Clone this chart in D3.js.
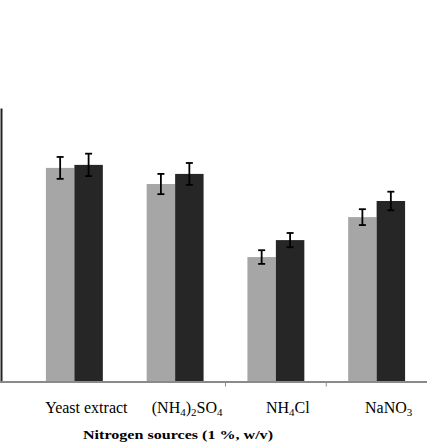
<!DOCTYPE html>
<html lang="en">
<head>
  <meta charset="UTF-8">
  <title>Nitrogen sources</title>
  <script src="https://cdn.jsdelivr.net/npm/d3@7"></script>
  <style>
    body { margin: 0; background: #fff; }
    text { font-family: "Liberation Serif", "Times New Roman", serif; fill: #000; }
  </style>
</head>
<body>
  <script>
    // categories (label parts: [text, isSubscript])
    let categories = ['Yeast extract', '(NH4)2SO4', 'NH4Cl', 'NaNO3'];
    let labelParts = [
      [['Yeast extract', 0]],
      [['(NH', 0], ['4', 1], [')', 0], ['2', 1], ['SO', 0], ['4', 1]],
      [['NH', 0], ['4', 1], ['Cl', 0]],
      [['NaNO', 0], ['3', 1]]
    ];
    let series = ['s1', 's2'];
    let values1 = [78.1, 72.2, 45.5, 60.1];
    let values2 = [79.2, 75.9, 51.7, 66.0];
    let errors1 = [4.0, 3.7, 2.5, 2.9];
    let errors2 = [4.1, 4.0, 2.6, 3.4];
    let colors = ['#a6a6a6', '#262626'];

    let W = 443, H = 443;
    let svg = d3.select('body').append('svg')
      .attr('width', W).attr('height', H);

    let x0 = d3.scaleBand().domain(categories).range([24, 427]).padding(0);
    let x1 = d3.scaleBand().domain(series).range([0, x0.bandwidth()])
      .paddingInner(0).paddingOuter(0.77);
    let y = d3.scaleLinear().domain([0, 100]).range([381.5, 108]);

    let rows = categories.map((c, i) => ({
      cat: c,
      vals: [
        {s: 's1', v: values1[i], e: errors1[i], color: colors[0]},
        {s: 's2', v: values2[i], e: errors2[i], color: colors[1]}
      ]
    }));

    // bars
    let groups = svg.selectAll('g.grp').data(rows).enter().append('g')
      .attr('class', 'grp')
      .attr('transform', d => `translate(${x0(d.cat)},0)`);

    groups.selectAll('rect').data(d => d.vals).enter().append('rect')
      .attr('x', d => x1(d.s))
      .attr('width', x1.bandwidth())
      .attr('y', d => y(d.v))
      .attr('height', d => y(0) - y(d.v))
      .attr('fill', d => d.color);

    // error bars
    let cap = 3.5;
    let cx = d => x1(d.s) + x1.bandwidth() / 2;
    let eb = groups.selectAll('g.err').data(d => d.vals).enter().append('g')
      .attr('class', 'err')
      .attr('stroke', '#000').attr('stroke-width', 1.8);
    eb.append('line')
      .attr('x1', cx).attr('x2', cx)
      .attr('y1', d => y(d.v + d.e)).attr('y2', d => y(d.v - d.e));
    eb.append('line')
      .attr('x1', d => cx(d) - cap).attr('x2', d => cx(d) + cap)
      .attr('y1', d => y(d.v + d.e)).attr('y2', d => y(d.v + d.e));
    eb.append('line')
      .attr('x1', d => cx(d) - cap).attr('x2', d => cx(d) + cap)
      .attr('y1', d => y(d.v - d.e)).attr('y2', d => y(d.v - d.e));

    // y axis (line only)
    let yAxis = svg.append('g').attr('transform', 'translate(1,0)')
      .call(d3.axisLeft(y).tickValues([]).tickSizeOuter(0));
    yAxis.select('path').attr('stroke', '#222').attr('stroke-width', 2);

    // x axis
    svg.append('line')
      .attr('x1', 0).attr('x2', x0.range()[1])
      .attr('y1', y(0) + 0.5).attr('y2', y(0) + 0.5)
      .attr('stroke', '#8a8a8a').attr('stroke-width', 2);
    svg.selectAll('line.tick').data(categories.slice(2)).enter().append('line')
      .attr('class', 'tick')
      .attr('x1', d => x0(d)).attr('x2', d => x0(d))
      .attr('y1', y(0) + 1).attr('y2', y(0) + 5)
      .attr('stroke', '#8a8a8a').attr('stroke-width', 1);

    // category labels with subscripts
    let labels = svg.selectAll('text.cat').data(rows).enter().append('text')
      .attr('class', 'cat')
      .attr('x', d => x0(d.cat) + x0.bandwidth() / 2 + 12)
      .attr('y', 413)
      .attr('text-anchor', 'middle')
      .style('font-size', '16px');
    labels.each(function (d, i) {
      let t = d3.select(this);
      let prevSub = false;
      labelParts[i].forEach(p => {
        let sub = p[1];
        let dy = sub && !prevSub ? 3 : (!sub && prevSub ? -3 : 0);
        t.append('tspan')
          .attr('dy', dy)
          .style('font-size', sub ? '11px' : '16px')
          .text(p[0]);
        prevSub = sub;
      });
    });

    // axis title
    svg.append('text')
      .attr('x', 178).attr('y', 439)
      .attr('text-anchor', 'middle')
      .attr('textLength', 190).attr('lengthAdjust', 'spacingAndGlyphs')
      .style('font-size', '13.5px').style('font-weight', 'bold')
      .text('Nitrogen sources (1 %, w/v)');
  </script>
</body>
</html>
